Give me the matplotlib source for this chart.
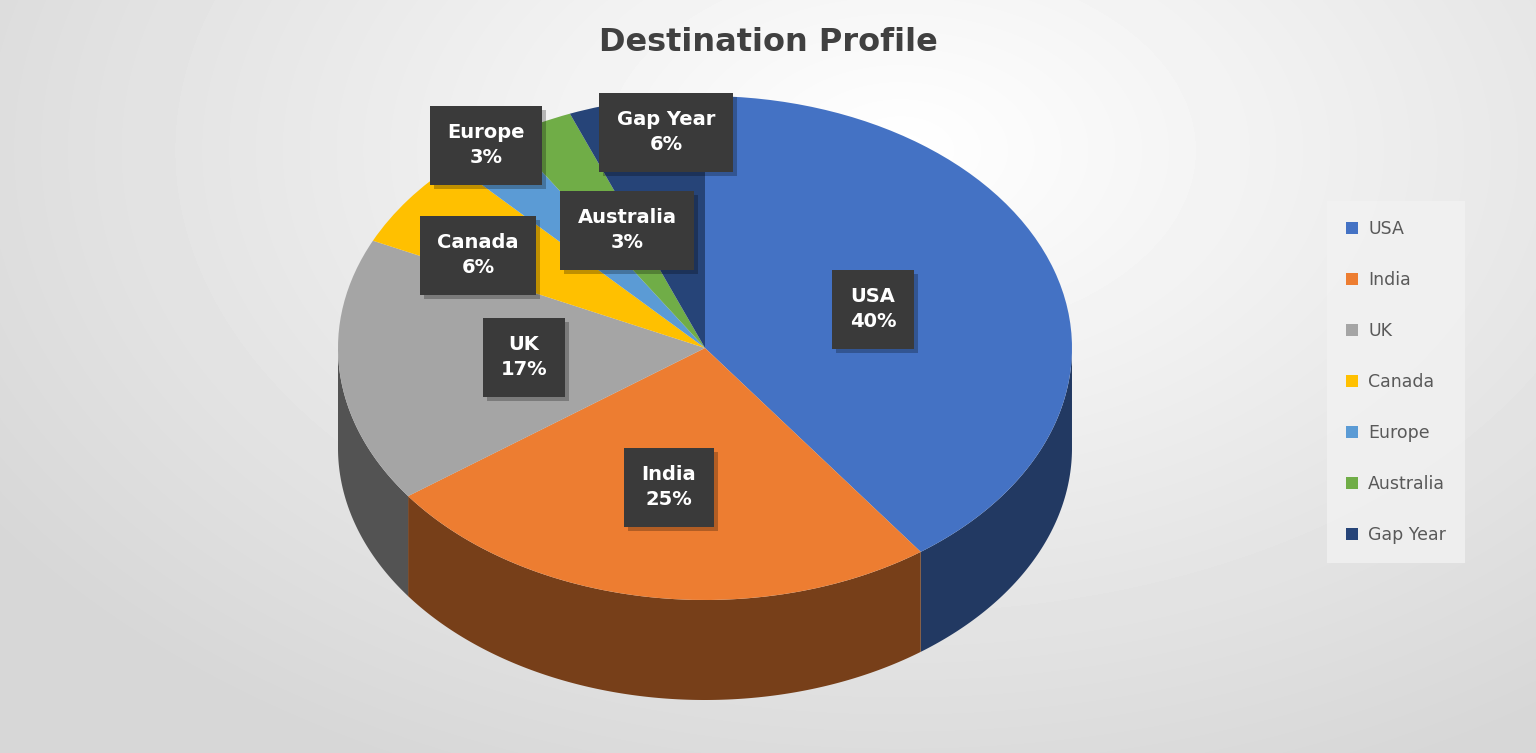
import numpy as np
import matplotlib
matplotlib.use("Agg")
import matplotlib.pyplot as plt
from matplotlib.transforms import Affine2D
from matplotlib.patches import Polygon, Patch
import matplotlib.colors as mc

categories = ["USA", "India", "UK", "Canada", "Europe", "Australia", "Gap Year"]
values = [40, 25, 17, 6, 3, 3, 6]
colors = ["#4472C4", "#ED7D31", "#A5A5A5", "#FFC000", "#5B9BD5", "#70AD47", "#264478"]
label_pos = {"USA": (873, 309), "India": (669, 487), "UK": (524, 357), "Canada": (478, 255),
             "Europe": (486, 145), "Australia": (627, 230), "Gap Year": (666, 132)}

W, H = 1536, 753
fig = plt.figure(figsize=(W/100, H/100), dpi=100)
ax = fig.add_axes([0, 0, 1, 1])

yy, xx = np.mgrid[0:H, 0:W]
d = np.sqrt(((xx-900)/1100)**2 + ((yy-150)/700)**2)
bg = 1.0 - 0.16*np.clip(d, 0, 1)
ax.imshow(bg, cmap="gray", vmin=0, vmax=1, extent=(0, W, 0, H), aspect="auto", zorder=0)

cx, cy = 705, H-348
R, ry, depth = 367, 252, 100
sy = ry/R

wedges, _ = ax.pie(values, colors=colors, startangle=90, counterclock=False,
                   center=(cx, cy), radius=R, wedgeprops=dict(linewidth=0))
ax.set_aspect("auto")
ax.set_xlim(0, W); ax.set_ylim(0, H); ax.axis("off")
tr = Affine2D().translate(-cx, -cy).scale(1, sy).translate(cx, cy) + ax.transData
for w in wedges:
    w.set_transform(tr); w.set_zorder(3)
    t1, t2 = sorted((w.theta1, w.theta2))
    th = np.radians(np.linspace(t1, t2, 200))
    th = th[np.sin(th) < 0]
    if len(th) > 1:
        top = np.column_stack([cx + R*np.cos(th), cy + ry*np.sin(th)])
        bot = top[::-1] - [0, depth]
        col = np.array(mc.to_rgb(w.get_facecolor()))*0.5
        ax.add_patch(Polygon(np.vstack([top, bot]), closed=True, facecolor=col,
                             edgecolor="none", zorder=2))

for c, v in zip(categories, values):
    x, y = label_pos[c]
    ax.text(x + 4, H - y - 4, f"{c}\n{v}%", ha="center", va="center", color="none",
            fontsize=14, fontweight="bold", zorder=4, linespacing=1.4,
            bbox=dict(boxstyle="square,pad=0.9", fc="#00000040", ec="none"))
    ax.text(x, H-y, f"{c}\n{v}%", ha="center", va="center", color="white",
            fontsize=14, fontweight="bold", zorder=5, linespacing=1.4,
            bbox=dict(boxstyle="square,pad=0.9", fc="#3a3a3a", ec="none"))

ax.text(768, H-42, "Destination Profile", ha="center", va="center", fontsize=23,
        fontweight="bold", color="#404040", zorder=5)

handles = [Patch(facecolor=c, edgecolor="none") for c in colors]
leg = fig.legend(handles, categories, loc="upper left", bbox_to_anchor=(1318/W, 1-192/H),
                 fontsize=12.5, labelspacing=1.9, handlelength=0.7, handleheight=0.7,
                 handletextpad=0.6, borderpad=1.1, frameon=True, fancybox=False,
                 labelcolor="#595959")
leg.get_frame().set_facecolor("#f2f2f2"); leg.get_frame().set_edgecolor("none")
fig.savefig("out.png", dpi=100)
